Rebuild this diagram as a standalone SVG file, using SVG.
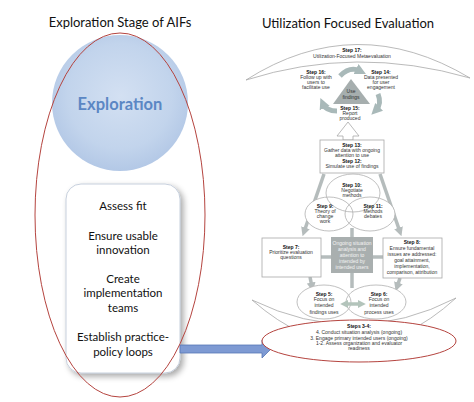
<svg xmlns="http://www.w3.org/2000/svg" width="474" height="402" viewBox="0 0 474 402">
<defs>
<radialGradient id="blueball" cx="50%" cy="45%" r="55%">
<stop offset="0" stop-color="#d3e0f2"/>
<stop offset="0.7" stop-color="#c2d4ec"/>
<stop offset="1" stop-color="#b3c8e6"/>
</radialGradient>
<filter id="shadow" x="-20%" y="-20%" width="150%" height="150%">
<feGaussianBlur in="SourceAlpha" stdDeviation="3"/>
<feOffset dx="3" dy="3" result="b"/>
<feComponentTransfer><feFuncA type="linear" slope="0.35"/></feComponentTransfer>
<feMerge><feMergeNode/><feMergeNode in="SourceGraphic"/></feMerge>
</filter>
<marker id="ah" viewBox="0 0 10 10" refX="5" refY="5" markerWidth="9" markerHeight="9" markerUnits="userSpaceOnUse" orient="auto">
<path d="M0,0 L10,5 L0,10 z" fill="#b5bcbc"/>
</marker>
<marker id="ahc" viewBox="0 0 10 10" refX="4" refY="5" markerWidth="11" markerHeight="11" markerUnits="userSpaceOnUse" orient="auto">
<path d="M0,0 L10,5 L0,10 z" fill="#a9b9b9"/>
</marker>
<marker id="ahg" viewBox="0 0 10 10" refX="4" refY="5" markerWidth="8" markerHeight="8" markerUnits="userSpaceOnUse" orient="auto-start-reverse">
<path d="M0,0 L10,5 L0,10 z" fill="#b3c4bb"/>
</marker>
</defs>
<style>
.title{font-family:Lato,"Liberation Sans",sans-serif;font-size:13px;fill:#111;text-anchor:middle}
.lt{font-family:Lato,"Liberation Sans",sans-serif;font-size:11.5px;fill:#111;text-anchor:middle}
.t{font-family:"Liberation Sans",Arial,sans-serif;font-size:5px;fill:#333;text-anchor:middle}
.b{font-weight:bold;fill:#111}
.w{fill:#f4f4f4}
.shape{fill:#fff;stroke:#a8a8a8;stroke-width:0.8}
.fillw{fill:#fff;stroke:none}
.outl{fill:none;stroke:#b0b0b0;stroke-width:0.8}
.conn{stroke:#b5bcbc;stroke-width:3.5;fill:none}
.circ{stroke:#a9b9b9;stroke-width:5;fill:none}
.red{fill:none;stroke:#b5443f;stroke-width:1}
</style>
<rect width="474" height="402" fill="#fff"/>

<!-- Left side -->
<text class="title" x="120" y="27">Exploration Stage of AIFs</text>
<g id="exploration">
<circle cx="120" cy="103" r="68" fill="url(#blueball)"/>
<text x="120" y="110" font-family="Lato,'Liberation Sans',sans-serif" font-size="16.5" font-weight="bold" fill="#5b87c4" text-anchor="middle">Exploration</text>
</g>
<g id="activities">
<rect x="66" y="184" width="114" height="189" rx="15" fill="#fff" stroke="#b9c4d4" stroke-width="0.8" filter="url(#shadow)"/>
<text class="lt" x="123" y="210">Assess fit</text>
<text class="lt" x="123" y="240">Ensure usable</text>
<text class="lt" x="123" y="254">innovation</text>
<text class="lt" x="123" y="283">Create</text>
<text class="lt" x="123" y="297">implementation</text>
<text class="lt" x="123" y="312">teams</text>
<text class="lt" x="123" y="341">Establish practice-</text>
<text class="lt" x="123" y="356">policy loops</text>
</g>
<g id="blue-arrow">
<path d="M180,345 L262,345 L262,340 L271,349 L262,358 L262,353 L180,353 Z" fill="#7e9ad3" stroke="#5676b6" stroke-width="0.8"/>
</g>
<g id="left-ellipse">
<ellipse class="red" cx="120" cy="215" rx="85" ry="182"/>
</g>

<!-- Right side -->
<text class="title" x="348" y="28">Utilization Focused Evaluation</text>

<g id="step17">
<path class="shape" d="M246,80 Q356,10 470,78 Q356,45 246,80 Z"/>
<text class="t b" x="352" y="52">Step 17:</text>
<text class="t" x="352" y="58">Utilization-Focused Metaevaluation</text>
</g>

<g id="bowl">
<path class="shape" d="M252,300 Q355,390 456,298 Q355,350 252,300 Z"/>
</g>

<g id="connectors">
<path class="conn" d="M324,174 L304,232" marker-end="url(#ah)"/>
<path class="conn" d="M380,174 L400,232" marker-end="url(#ah)"/>
<path class="conn" d="M352,228 L352,237"/>
<path class="conn" d="M321,257 L331,257"/>
<path class="conn" d="M373,257 L383,257"/>
<path class="conn" d="M310,277 L312,287" marker-end="url(#ah)"/>
<path class="conn" d="M352,273 L352,288"/>
<path class="conn" d="M400,278 L397,287" marker-end="url(#ah)"/>
<path class="circ" d="M340,76 Q350,66 360,71" marker-end="url(#ahc)"/>
<path class="circ" d="M378,94 Q382,104 376,110" marker-end="url(#ahc)"/>
<path class="circ" d="M337,111 Q326,111 323,104" marker-end="url(#ahc)"/>
</g>

<g id="step13">
<polygon class="shape" points="348,122 359,136 353,136 353,140 343,140 343,136 337,136"/>
<rect class="shape" x="320" y="140" width="64" height="33"/>
<text class="t b" x="352" y="147">Step 13:</text>
<text class="t" x="352" y="152">Gather data with ongoing</text>
<text class="t" x="352" y="157">attention to use</text>
<text class="t b" x="352" y="163">Step 12:</text>
<text class="t" x="352" y="168">Simulate use of findings</text>
</g>

<g id="use-findings">
<polygon points="351,79 333,104 370,104" fill="#a6aeae"/>
<text class="t" x="351" y="93">Use</text>
<text class="t" x="351" y="99">findings</text>
</g>
<g id="step16">
<text class="t b" x="316" y="74">Step 16:</text>
<text class="t" x="316" y="79">Follow up with</text>
<text class="t" x="316" y="84">users to</text>
<text class="t" x="316" y="89">facilitate use</text>
</g>
<g id="step14">
<text class="t b" x="381" y="74">Step 14:</text>
<text class="t" x="381" y="79">Data presented</text>
<text class="t" x="381" y="84">for user</text>
<text class="t" x="381" y="89">engagement</text>
</g>
<g id="step15">
<text class="t b" x="350" y="110">Step 15:</text>
<text class="t" x="350" y="115">Report</text>
<text class="t" x="350" y="120">produced</text>
</g>

<g id="venn-fills">
<ellipse class="fillw" cx="353" cy="193" rx="27" ry="19"/>
<ellipse class="fillw" cx="329" cy="214" rx="24" ry="17"/>
<ellipse class="fillw" cx="370" cy="214" rx="25" ry="17"/>
</g>
<g id="step10">
<ellipse class="outl" cx="353" cy="193" rx="27" ry="19"/>
<text class="t b" x="352" y="187">Step 10:</text>
<text class="t" x="352" y="192">Negotiate</text>
<text class="t" x="352" y="197">methods</text>
</g>
<g id="step9">
<ellipse class="outl" cx="329" cy="214" rx="24" ry="17"/>
<text class="t b" x="325" y="208">Step 9:</text>
<text class="t" x="325" y="213">Theory of</text>
<text class="t" x="325" y="218">change</text>
<text class="t" x="325" y="223">work</text>
</g>
<g id="step11">
<ellipse class="outl" cx="370" cy="214" rx="25" ry="17"/>
<text class="t b" x="373" y="208">Step 11:</text>
<text class="t" x="373" y="213">Methods</text>
<text class="t" x="373" y="218">debates</text>
</g>

<g id="step7">
<rect class="shape" x="262" y="238" width="59" height="39"/>
<text class="t b" x="291" y="249">Step 7:</text>
<text class="t" x="291" y="254">Prioritize evaluation</text>
<text class="t" x="291" y="259">questions</text>
</g>
<g id="ongoing">
<rect x="331" y="237" width="42" height="36" fill="#a9afaf"/>
<text class="t w" x="352" y="245">Ongoing situation</text>
<text class="t w" x="352" y="251">analysis and</text>
<text class="t w" x="352" y="257">attention to</text>
<text class="t w" x="352" y="263">intended by</text>
<text class="t w" x="352" y="269">intended users</text>
</g>
<g id="step8">
<rect class="shape" x="383" y="238" width="59" height="40"/>
<text class="t b" x="412" y="244">Step 8:</text>
<text class="t" x="412" y="250">Ensure fundamental</text>
<text class="t" x="412" y="256">issues are addressed:</text>
<text class="t" x="412" y="262">goal attainment,</text>
<text class="t" x="412" y="268">implementation,</text>
<text class="t" x="412" y="274">comparison, attribution</text>
</g>

<g id="step5-6-fills">
<ellipse class="fillw" cx="324" cy="302" rx="27" ry="17"/>
<ellipse class="fillw" cx="376" cy="302" rx="30" ry="17"/>
</g>
<g id="step5">
<ellipse class="outl" cx="324" cy="302" rx="27" ry="17"/>
<text class="t b" x="324" y="296">Step 5:</text>
<text class="t" x="324" y="301">Focus on</text>
<text class="t" x="324" y="307">intended</text>
<text class="t" x="324" y="314">findings uses</text>
</g>
<g id="step6">
<ellipse class="outl" cx="376" cy="302" rx="30" ry="17"/>
<text class="t b" x="379" y="296">Step 6:</text>
<text class="t" x="379" y="301">Focus on</text>
<text class="t" x="379" y="307">intended</text>
<text class="t" x="379" y="314">process uses</text>
</g>
<g id="step5-6-link">
<path d="M345,304 L361,304" stroke="#b3c4bb" stroke-width="3.5" marker-start="url(#ahg)" marker-end="url(#ahg)"/>
</g>

<g id="steps3-4">
<ellipse cx="359" cy="341" rx="97" ry="21" fill="#fff" stroke="#b5443f" stroke-width="1"/>
<text class="t b" x="359" y="328">Steps 3-4:</text>
<text class="t" x="359" y="334">4. Conduct situation analysis (ongoing)</text>
<text class="t" x="359" y="340">3. Engage primary intended users (ongoing)</text>
<text class="t" x="359" y="345">1-2. Assess organization and evaluator</text>
<text class="t" x="359" y="350">readiness</text>
</g>
</svg>
